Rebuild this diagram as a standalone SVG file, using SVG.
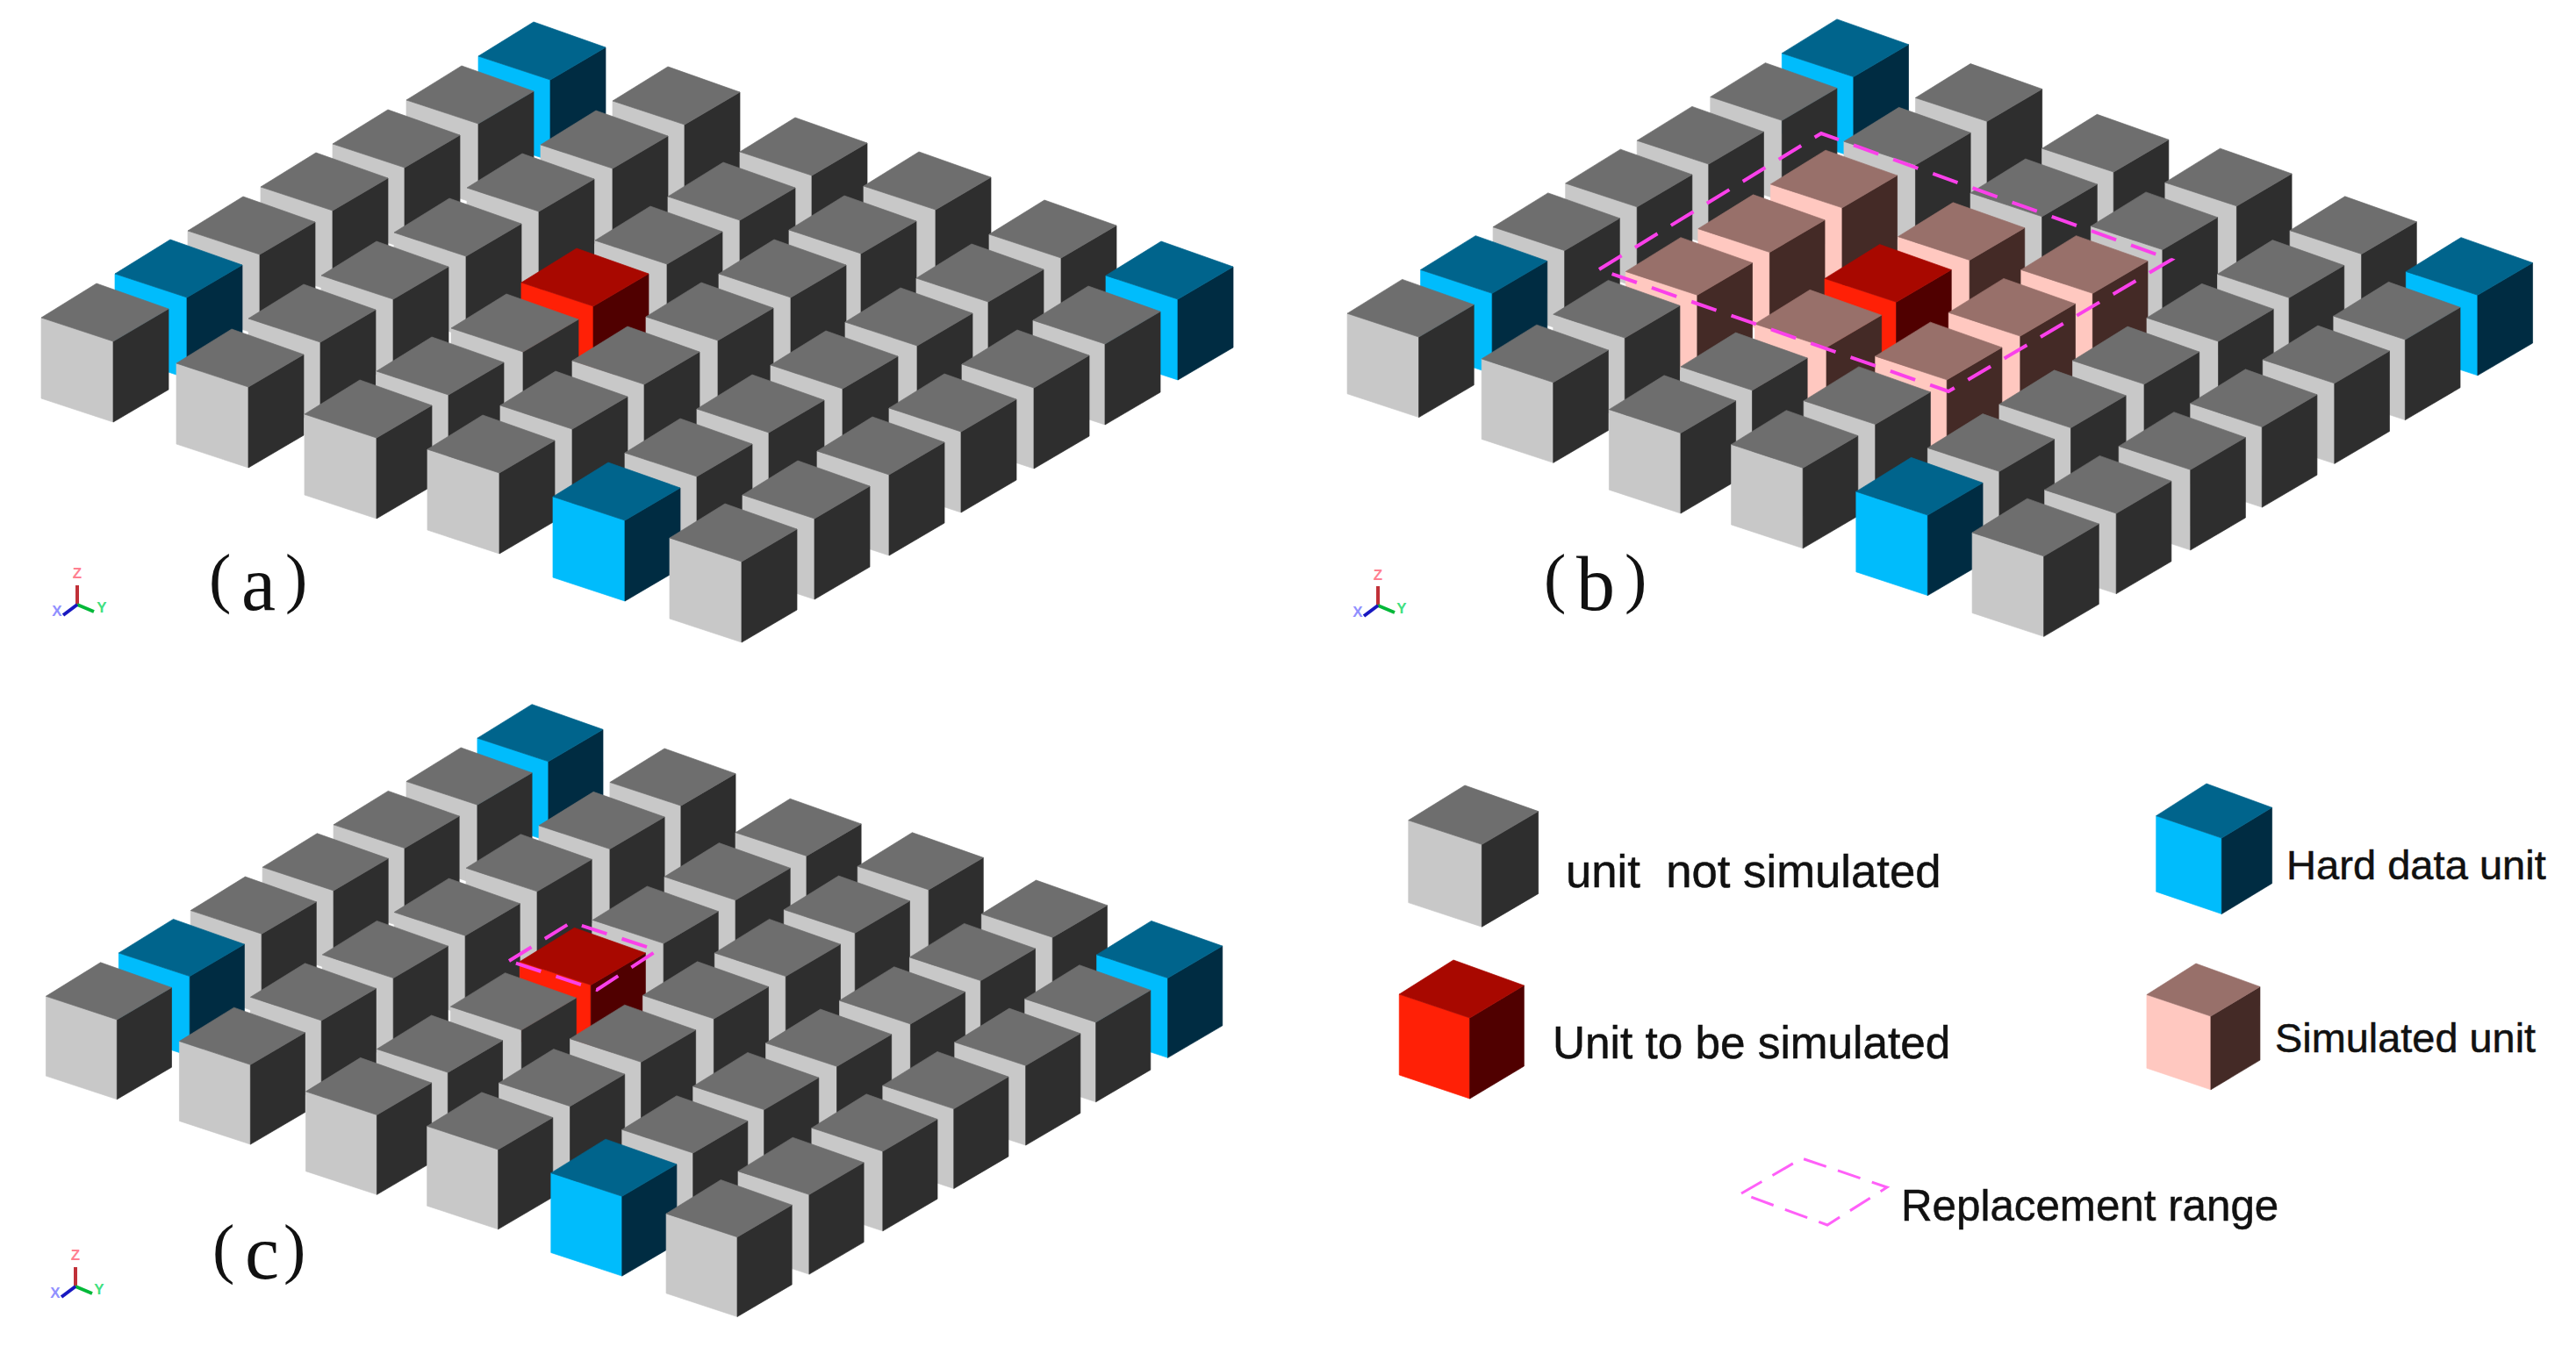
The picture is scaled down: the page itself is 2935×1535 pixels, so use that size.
<svg xmlns="http://www.w3.org/2000/svg" width="2935" height="1535" viewBox="0 0 2935 1535">
<style>
.t{fill:var(--t);stroke:var(--t)}.l{fill:var(--l);stroke:var(--l)}.r{fill:var(--r);stroke:var(--r)}
.t,.l,.r{stroke-width:.7;stroke-linejoin:round}
.g{--t:#6e6e6e;--l:#c8c8c8;--r:#2e2e2e}
.b{--t:#00648c;--l:#00bcfc;--r:#002c42}
.d{--t:#a80800;--l:#ff2006;--r:#500000}
.p{--t:#98706a;--l:#ffc8c0;--r:#442a26}
.dash{fill:none;stroke:#fa40ea;stroke-width:4;stroke-dasharray:30 18}
.lab{font-family:"Liberation Sans",Arial,sans-serif;fill:#111;stroke:#111;stroke-width:.5}
.pl{font-family:"Liberation Serif","Times New Roman",serif;fill:#111}
.ax{font-family:"Liberation Sans",Arial,sans-serif;font-size:17px;font-weight:bold;text-anchor:middle}
.al{fill:none;stroke-width:4}
</style>
<defs>
<g id="k"><path class="l" d="M-63 39L19 66V158L-63 131Z"/><path class="r" d="M19 66L82 29V121L19 158Z"/><path class="t" d="M0 0L82 29L19 66L-63 39Z"/></g>
<g id="axes">
<path class="al" stroke="#c03038" d="M0 0V-22"/><path class="al" stroke="#00b838" d="M0 0L19 8"/><path class="al" stroke="#1818c0" d="M0 0L-16 12"/>
</g>
</defs>
<rect width="2935" height="1535" fill="#fff"/>

<g id="panel-a">
<use id="a1-1" href="#k" class="b" x="608" y="25"/><use id="a1-2" href="#k" class="g" x="526" y="75"/><use id="a1-3" href="#k" class="g" x="442" y="125"/><use id="a1-4" href="#k" class="g" x="360" y="174"/><use id="a1-5" href="#k" class="g" x="277" y="224"/><use id="a1-6" href="#k" class="b" x="194" y="273"/><use id="a1-7" href="#k" class="g" x="110" y="323"/>
<use id="a2-1" href="#k" class="g" x="761" y="76"/><use id="a2-2" href="#k" class="g" x="679" y="126"/><use id="a2-3" href="#k" class="g" x="595" y="175"/><use id="a2-4" href="#k" class="g" x="512" y="226"/><use id="a2-5" href="#k" class="g" x="429" y="275"/><use id="a2-6" href="#k" class="g" x="346" y="324"/><use id="a2-7" href="#k" class="g" x="264" y="375"/>
<use id="a3-1" href="#k" class="g" x="906" y="134"/><use id="a3-2" href="#k" class="g" x="824" y="185"/><use id="a3-3" href="#k" class="g" x="741" y="235"/><use id="a3-4" href="#k" class="d" x="657" y="283"/><use id="a3-5" href="#k" class="g" x="577" y="335"/><use id="a3-6" href="#k" class="g" x="492" y="384"/><use id="a3-7" href="#k" class="g" x="410" y="433"/>
<use id="a4-1" href="#k" class="g" x="1047" y="173"/><use id="a4-2" href="#k" class="g" x="962" y="223"/><use id="a4-3" href="#k" class="g" x="882" y="273"/><use id="a4-4" href="#k" class="g" x="799" y="322"/><use id="a4-5" href="#k" class="g" x="715" y="372"/><use id="a4-6" href="#k" class="g" x="633" y="423"/><use id="a4-7" href="#k" class="g" x="550" y="473"/>
<use id="a5-1" href="#k" class="g" x="1190" y="228"/><use id="a5-2" href="#k" class="g" x="1107" y="278"/><use id="a5-3" href="#k" class="g" x="1026" y="328"/><use id="a5-4" href="#k" class="g" x="941" y="377"/><use id="a5-5" href="#k" class="g" x="857" y="427"/><use id="a5-6" href="#k" class="g" x="775" y="477"/><use id="a5-7" href="#k" class="b" x="693" y="527"/>
<use id="a6-1" href="#k" class="b" x="1323" y="275"/><use id="a6-2" href="#k" class="g" x="1240" y="326"/><use id="a6-3" href="#k" class="g" x="1159" y="376"/><use id="a6-4" href="#k" class="g" x="1076" y="426"/><use id="a6-5" href="#k" class="g" x="994" y="475"/><use id="a6-6" href="#k" class="g" x="909" y="525"/><use id="a6-7" href="#k" class="g" x="826" y="574"/>
</g>

<g id="panel-b" transform="matrix(.9945 0 0 .995 1488.3 -3)">
<use id="b1-1" href="#k" class="b" x="608" y="25"/><use id="b1-2" href="#k" class="g" x="526" y="75"/><use id="b1-3" href="#k" class="g" x="442" y="125"/><use id="b1-4" href="#k" class="g" x="360" y="174"/><use id="b1-5" href="#k" class="g" x="277" y="224"/><use id="b1-6" href="#k" class="b" x="194" y="273"/><use id="b1-7" href="#k" class="g" x="110" y="323"/>
<use id="b2-1" href="#k" class="g" x="761" y="76"/><use id="b2-2" href="#k" class="g" x="679" y="126"/><use id="b2-3" href="#k" class="p" x="595" y="175"/><use id="b2-4" href="#k" class="p" x="512" y="226"/><use id="b2-5" href="#k" class="p" x="429" y="275"/><use id="b2-6" href="#k" class="g" x="346" y="324"/><use id="b2-7" href="#k" class="g" x="264" y="375"/>
<use id="b3-1" href="#k" class="g" x="906" y="134"/><use id="b3-2" href="#k" class="g" x="824" y="185"/><use id="b3-3" href="#k" class="p" x="741" y="235"/><use id="b3-4" href="#k" class="d" x="657" y="283"/><use id="b3-5" href="#k" class="p" x="577" y="335"/><use id="b3-6" href="#k" class="g" x="492" y="384"/><use id="b3-7" href="#k" class="g" x="410" y="433"/>
<use id="b4-1" href="#k" class="g" x="1047" y="173"/><use id="b4-2" href="#k" class="g" x="962" y="223"/><use id="b4-3" href="#k" class="p" x="882" y="273"/><use id="b4-4" href="#k" class="p" x="799" y="322"/><use id="b4-5" href="#k" class="p" x="715" y="372"/><use id="b4-6" href="#k" class="g" x="633" y="423"/><use id="b4-7" href="#k" class="g" x="550" y="473"/>
<use id="b5-1" href="#k" class="g" x="1190" y="228"/><use id="b5-2" href="#k" class="g" x="1107" y="278"/><use id="b5-3" href="#k" class="g" x="1026" y="328"/><use id="b5-4" href="#k" class="g" x="941" y="377"/><use id="b5-5" href="#k" class="g" x="857" y="427"/><use id="b5-6" href="#k" class="g" x="775" y="477"/><use id="b5-7" href="#k" class="b" x="693" y="527"/>
<use id="b6-1" href="#k" class="b" x="1323" y="275"/><use id="b6-2" href="#k" class="g" x="1240" y="326"/><use id="b6-3" href="#k" class="g" x="1159" y="376"/><use id="b6-4" href="#k" class="g" x="1076" y="426"/><use id="b6-5" href="#k" class="g" x="994" y="475"/><use id="b6-6" href="#k" class="g" x="909" y="525"/><use id="b6-7" href="#k" class="g" x="826" y="574"/>
</g>
<path id="range-b" class="dash" d="M1822 307L2075 152L2474 296L2220 446Z"/>

<g id="panel-c" transform="matrix(.987 0 0 .987 6 778)">
<use id="c1-1" href="#k" class="b" x="608" y="25"/><use id="c1-2" href="#k" class="g" x="526" y="75"/><use id="c1-3" href="#k" class="g" x="442" y="125"/><use id="c1-4" href="#k" class="g" x="360" y="174"/><use id="c1-5" href="#k" class="g" x="277" y="224"/><use id="c1-6" href="#k" class="b" x="194" y="273"/><use id="c1-7" href="#k" class="g" x="110" y="323"/>
<use id="c2-1" href="#k" class="g" x="761" y="76"/><use id="c2-2" href="#k" class="g" x="679" y="126"/><use id="c2-3" href="#k" class="g" x="595" y="175"/><use id="c2-4" href="#k" class="g" x="512" y="226"/><use id="c2-5" href="#k" class="g" x="429" y="275"/><use id="c2-6" href="#k" class="g" x="346" y="324"/><use id="c2-7" href="#k" class="g" x="264" y="375"/>
<use id="c3-1" href="#k" class="g" x="906" y="134"/><use id="c3-2" href="#k" class="g" x="824" y="185"/><use id="c3-3" href="#k" class="g" x="741" y="235"/><use id="c3-4" href="#k" class="d" x="657" y="283"/><use id="c3-5" href="#k" class="g" x="577" y="335"/><use id="c3-6" href="#k" class="g" x="492" y="384"/><use id="c3-7" href="#k" class="g" x="410" y="433"/>
<use id="c4-1" href="#k" class="g" x="1047" y="173"/><use id="c4-2" href="#k" class="g" x="962" y="223"/><use id="c4-3" href="#k" class="g" x="882" y="273"/><use id="c4-4" href="#k" class="g" x="799" y="322"/><use id="c4-5" href="#k" class="g" x="715" y="372"/><use id="c4-6" href="#k" class="g" x="633" y="423"/><use id="c4-7" href="#k" class="g" x="550" y="473"/>
<use id="c5-1" href="#k" class="g" x="1190" y="228"/><use id="c5-2" href="#k" class="g" x="1107" y="278"/><use id="c5-3" href="#k" class="g" x="1026" y="328"/><use id="c5-4" href="#k" class="g" x="941" y="377"/><use id="c5-5" href="#k" class="g" x="857" y="427"/><use id="c5-6" href="#k" class="g" x="775" y="477"/><use id="c5-7" href="#k" class="b" x="693" y="527"/>
<use id="c6-1" href="#k" class="b" x="1323" y="275"/><use id="c6-2" href="#k" class="g" x="1240" y="326"/><use id="c6-3" href="#k" class="g" x="1159" y="376"/><use id="c6-4" href="#k" class="g" x="1076" y="426"/><use id="c6-5" href="#k" class="g" x="994" y="475"/><use id="c6-6" href="#k" class="g" x="909" y="525"/><use id="c6-7" href="#k" class="g" x="826" y="574"/>
</g>
<path id="range-c" class="dash" d="M580 1095L651 1051L749 1083L680 1128Z"/>

<g id="axes-a"><use href="#axes" x="88" y="689"/><text class="ax" fill="#ff8090" x="88" y="659">Z</text><text class="ax" fill="#40e080" x="116" y="698">Y</text><text class="ax" fill="#9090ff" x="65" y="702">X</text></g>
<g id="axes-b"><use href="#axes" x="1570" y="690"/><text class="ax" fill="#ff8090" x="1570" y="661">Z</text><text class="ax" fill="#40e080" x="1597" y="699">Y</text><text class="ax" fill="#9090ff" x="1547" y="703">X</text></g>
<g id="axes-c"><use href="#axes" x="86" y="1466"/><text class="ax" fill="#ff8090" x="86" y="1436">Z</text><text class="ax" fill="#40e080" x="113" y="1475">Y</text><text class="ax" fill="#9090ff" x="63" y="1479">X</text></g>

<text id="label-a" class="pl" y="684"><tspan x="238" font-size="76">(</tspan><tspan x="275" y="695" font-size="88">a</tspan><tspan x="325" y="684" font-size="76">)</tspan></text>
<text id="label-b" class="pl" y="684"><tspan x="1759" font-size="76">(</tspan><tspan x="1796" y="695" font-size="88">b</tspan><tspan x="1851" y="684" font-size="76">)</tspan></text>
<text id="label-c" class="pl" y="1448"><tspan x="242" font-size="76">(</tspan><tspan x="279" y="1457" font-size="88">c</tspan><tspan x="323" y="1448" font-size="76">)</tspan></text>

<g id="legend-not-simulated"><use href="#k" class="g" transform="translate(1669 895) scale(1.02)"/><text class="lab" x="1784" y="1011" font-size="52.7" xml:space="preserve">unit  not simulated</text></g>
<g id="legend-hard"><use href="#k" class="b" transform="translate(2514 893) scale(.91 .94)"/><text class="lab" x="2605" y="1002" font-size="47.1">Hard data unit</text></g>
<g id="legend-to-simulate"><use href="#k" class="d" transform="translate(1656 1094) scale(.98 1)"/><text class="lab" x="1769" y="1206" font-size="51.3">Unit to be simulated</text></g>
<g id="legend-simulated"><use href="#k" class="p" transform="translate(2502 1098) scale(.89 .91)"/><text class="lab" x="2592" y="1199" font-size="46.9">Simulated unit</text></g>
<g id="legend-range"><path d="M1984 1360L2053 1320L2150 1353L2082 1396Z" fill="none" stroke="#ff60f8" stroke-width="3" stroke-dasharray="27 14"/><text class="lab" x="2166" y="1391" font-size="49.3">Replacement range</text></g>
</svg>
